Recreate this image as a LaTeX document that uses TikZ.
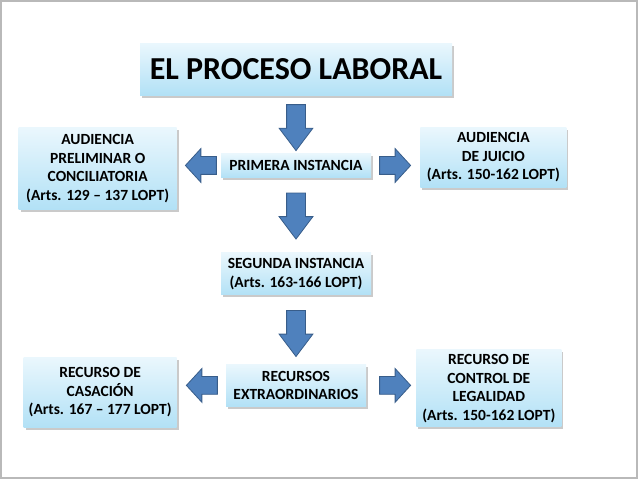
\documentclass[tikz,border=0pt]{standalone}
\usepackage{fontspec}
\setmainfont{Carlito}
\usetikzlibrary{shapes.arrows, positioning, shadows}

\definecolor{boxtop}{RGB}{234,247,253}
\definecolor{boxbot}{RGB}{178,225,246}
\definecolor{arrowblue}{RGB}{79,129,189}
\definecolor{arrowedge}{RGB}{56,93,138}

\begin{document}
\begin{tikzpicture}[
    x=1pt, y=-1pt,
    node distance=10pt,
    % Stili dei nodi
    box/.style={rectangle, top color=boxtop, bottom color=boxbot, align=center, inner sep=2pt, font=\bfseries\fontsize{15.5}{18.5}\selectfont, drop shadow={shadow xshift=2pt, shadow yshift=-2.5pt, opacity=0.35, fill=black!60}},
    titlebox/.style={box, font=\bfseries\fontsize{32}{36}\selectfont},
    blockarrow/.style={single arrow, fill=arrowblue, draw=arrowedge, line width=0.8pt, single arrow head indent=0pt},
    arrowdown/.style={blockarrow, inner xsep=9pt, inner ysep=0pt, shape border rotate=270, minimum height=46pt, minimum width=33pt, single arrow head extend=7.5pt, single arrow tip angle=74},
    arrowleft/.style={blockarrow, inner xsep=0pt, inner ysep=8.5pt, shape border rotate=180, minimum height=31pt, minimum width=33pt, single arrow head extend=8pt, single arrow tip angle=95},
    arrowright/.style={blockarrow, inner xsep=0pt, inner ysep=8.5pt, minimum height=31pt, minimum width=33pt, single arrow head extend=8pt, single arrow tip angle=95}
]
    \useasboundingbox (0,0) rectangle (638,479);
    \draw[gray!55, line width=1.5pt] (1,1) rectangle (637,478);

    % ==================== TITOLO ====================
    \node[titlebox, minimum width=312pt, minimum height=52pt] (titulo) at (296,69) {EL PROCESO LABORAL};
    \node[arrowdown, below=9pt of titulo] (flecha1) {};

    % ==================== PRIMERA INSTANCIA ====================
    \node[box, below=2pt of flecha1, minimum width=150pt, minimum height=24pt] (primera) {PRIMERA INSTANCIA};
    \node[arrowleft, left=4pt of primera] (izq1) {};
    \node[box, left=8pt of izq1, yshift=-3pt, minimum width=158pt, minimum height=82pt] (preliminar) {AUDIENCIA\\PRELIMINAR O\\CONCILIATORIA\\(Arts. 129 – 137 LOPT)};
    \node[arrowright, right=8pt of primera] (der1) {};
    \node[box, right=9pt of der1, yshift=8pt, minimum width=146pt, minimum height=60pt] (juicio) {AUDIENCIA\\DE JUICIO\\(Arts. 150-162 LOPT)};

    % ==================== SEGUNDA INSTANCIA ====================
    \node[arrowdown, below=15pt of primera] (flecha2) {};
    \node[box, below=13pt of flecha2, minimum width=150pt, minimum height=42pt] (segunda) {SEGUNDA INSTANCIA\\(Arts. 163-166 LOPT)};

    % ==================== RECURSOS ====================
    \node[arrowdown, below=15pt of segunda] (flecha3) {};
    \node[box, below=7pt of flecha3, minimum width=140pt, minimum height=42pt] (extra) {RECURSOS\\EXTRAORDINARIOS};
    \node[arrowleft, left=8pt of extra] (izq2) {};
    \node[box, left=9pt of izq2, yshift=-7pt, minimum width=153pt, minimum height=70pt] (casacion) {RECURSO DE\\CASACIÓN\\(Arts. 167 – 177 LOPT)};
    \node[arrowright, right=13pt of extra] (der2) {};
    \node[box, right=5pt of der2, yshift=-3pt, minimum width=145pt, minimum height=77pt] (control) {RECURSO DE\\CONTROL DE\\LEGALIDAD\\(Arts. 150-162 LOPT)};

\end{tikzpicture}
\end{document}
